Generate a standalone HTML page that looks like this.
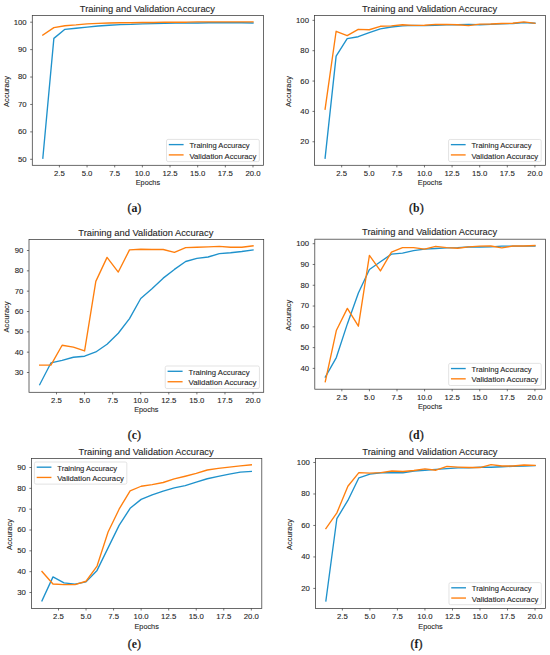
<!DOCTYPE html>
<html><head><meta charset="utf-8"><style>
html,body{margin:0;padding:0;background:#fff;width:550px;height:655px;overflow:hidden}
svg{display:block;font-family:"Liberation Sans",sans-serif;fill:#262626}
text{stroke:#262626;stroke-width:0.1px}
</style></head><body>
<svg width="550" height="655" viewBox="0 0 550 655">
<rect width="550" height="655" fill="#fff"/>
<g><polyline points="42.81,158.2 53.87,38.38 64.93,29.33 76,28.23 87.06,27.14 98.12,26.04 109.18,25.22 120.24,24.67 131.31,24.39 142.37,23.85 153.43,23.57 164.49,23.3 175.56,23.02 186.62,23.02 197.68,23.02 208.74,22.75 219.8,22.75 230.87,22.75 241.93,22.75 252.99,23.02" fill="none" stroke="#1f92cc" stroke-width="1.35" stroke-linejoin="round" stroke-linecap="square"/><polyline points="42.81,35.09 53.87,27.68 64.93,25.76 76,24.94 87.06,23.85 98.12,23.3 109.18,23.02 120.24,22.75 131.31,22.75 142.37,22.47 153.43,22.47 164.49,22.2 175.56,22.2 186.62,22.2 197.68,21.93 208.74,21.93 219.8,21.93 230.87,21.93 241.93,21.93 252.99,21.93" fill="none" stroke="#ff7f0e" stroke-width="1.35" stroke-linejoin="round" stroke-linecap="square"/><rect x="32.3" y="15.5" width="231.2" height="149.8" fill="none" stroke="#3a3a3a" stroke-width="0.75"/><line x1="59.4" y1="165.3" x2="59.4" y2="167.4" stroke="#3a3a3a" stroke-width="0.7"/><text x="59.4" y="175.8" font-size="7.48" text-anchor="middle" textLength="10.81" lengthAdjust="spacingAndGlyphs">2.5</text><line x1="87.06" y1="165.3" x2="87.06" y2="167.4" stroke="#3a3a3a" stroke-width="0.7"/><text x="87.06" y="175.8" font-size="7.48" text-anchor="middle" textLength="10.81" lengthAdjust="spacingAndGlyphs">5.0</text><line x1="114.71" y1="165.3" x2="114.71" y2="167.4" stroke="#3a3a3a" stroke-width="0.7"/><text x="114.71" y="175.8" font-size="7.48" text-anchor="middle" textLength="10.81" lengthAdjust="spacingAndGlyphs">7.5</text><line x1="142.37" y1="165.3" x2="142.37" y2="167.4" stroke="#3a3a3a" stroke-width="0.7"/><text x="142.37" y="175.8" font-size="7.48" text-anchor="middle" textLength="15.14" lengthAdjust="spacingAndGlyphs">10.0</text><line x1="170.02" y1="165.3" x2="170.02" y2="167.4" stroke="#3a3a3a" stroke-width="0.7"/><text x="170.02" y="175.8" font-size="7.48" text-anchor="middle" textLength="15.14" lengthAdjust="spacingAndGlyphs">12.5</text><line x1="197.68" y1="165.3" x2="197.68" y2="167.4" stroke="#3a3a3a" stroke-width="0.7"/><text x="197.68" y="175.8" font-size="7.48" text-anchor="middle" textLength="15.14" lengthAdjust="spacingAndGlyphs">15.0</text><line x1="225.34" y1="165.3" x2="225.34" y2="167.4" stroke="#3a3a3a" stroke-width="0.7"/><text x="225.34" y="175.8" font-size="7.48" text-anchor="middle" textLength="15.14" lengthAdjust="spacingAndGlyphs">17.5</text><line x1="252.99" y1="165.3" x2="252.99" y2="167.4" stroke="#3a3a3a" stroke-width="0.7"/><text x="252.99" y="175.8" font-size="7.48" text-anchor="middle" textLength="15.14" lengthAdjust="spacingAndGlyphs">20.0</text><line x1="30.2" y1="159.3" x2="32.3" y2="159.3" stroke="#3a3a3a" stroke-width="0.7"/><text x="26.7" y="161.75" font-size="7.48" text-anchor="end" textLength="8.65" lengthAdjust="spacingAndGlyphs">50</text><line x1="30.2" y1="131.88" x2="32.3" y2="131.88" stroke="#3a3a3a" stroke-width="0.7"/><text x="26.7" y="134.33" font-size="7.48" text-anchor="end" textLength="8.65" lengthAdjust="spacingAndGlyphs">60</text><line x1="30.2" y1="104.46" x2="32.3" y2="104.46" stroke="#3a3a3a" stroke-width="0.7"/><text x="26.7" y="106.91" font-size="7.48" text-anchor="end" textLength="8.65" lengthAdjust="spacingAndGlyphs">70</text><line x1="30.2" y1="77.04" x2="32.3" y2="77.04" stroke="#3a3a3a" stroke-width="0.7"/><text x="26.7" y="79.49" font-size="7.48" text-anchor="end" textLength="8.65" lengthAdjust="spacingAndGlyphs">80</text><line x1="30.2" y1="49.62" x2="32.3" y2="49.62" stroke="#3a3a3a" stroke-width="0.7"/><text x="26.7" y="52.07" font-size="7.48" text-anchor="end" textLength="8.65" lengthAdjust="spacingAndGlyphs">90</text><line x1="30.2" y1="22.2" x2="32.3" y2="22.2" stroke="#3a3a3a" stroke-width="0.7"/><text x="26.7" y="24.65" font-size="7.48" text-anchor="end" textLength="12.98" lengthAdjust="spacingAndGlyphs">100</text><text x="147.9" y="185.4" font-size="7.48" text-anchor="middle" textLength="24.36" lengthAdjust="spacingAndGlyphs">Epochs</text><text x="9.5" y="91.4" font-size="6.66" text-anchor="middle" textLength="31.05" lengthAdjust="spacingAndGlyphs" transform="rotate(-90 9.5 91.4)">Accuracy</text><text x="147.4" y="11.6" font-size="9.13" text-anchor="middle" textLength="135.16" lengthAdjust="spacingAndGlyphs">Training and Validation Accuracy</text><rect x="166.5" y="139.4" width="92.8" height="22.2" rx="1.6" fill="#fff" fill-opacity="0.8" stroke="#d9d9d9" stroke-width="0.75"/><line x1="168.8" y1="144.6" x2="183.6" y2="144.6" stroke="#1f92cc" stroke-width="1.35"/><text x="189.5" y="148.2" font-size="7.48" text-anchor="start" textLength="60.04" lengthAdjust="spacingAndGlyphs">Training Accuracy</text><line x1="168.8" y1="154.9" x2="183.6" y2="154.9" stroke="#ff7f0e" stroke-width="1.35"/><text x="189.5" y="158.5" font-size="7.48" text-anchor="start" textLength="66.79" lengthAdjust="spacingAndGlyphs">Validation Accuracy</text><text x="134.4" y="211.9" font-size="12.0" text-anchor="middle" font-family="Liberation Serif" fill="#1a1a1a" style="stroke:#1a1a1a;stroke-width:0.3px">(<tspan font-weight="bold" font-size="11.8" style="stroke:none">a</tspan>)</text></g>
<g><polyline points="325.09,158.14 336.13,56.16 347.18,38.56 358.22,36.74 369.26,32.64 380.31,28.85 391.35,27.03 402.39,25.81 413.44,25.36 424.48,25.66 435.52,25.36 446.56,24.9 457.61,24.75 468.65,24.45 479.69,24.75 490.74,24.3 501.78,23.84 512.82,23.54 523.87,22.63 534.91,23.23" fill="none" stroke="#1f92cc" stroke-width="1.35" stroke-linejoin="round" stroke-linecap="square"/><polyline points="325.09,109.12 336.13,31.28 347.18,35.68 358.22,29.3 369.26,29.76 380.31,26.27 391.35,25.81 402.39,24.75 413.44,25.36 424.48,25.21 435.52,24.45 446.56,24.45 457.61,24.75 468.65,25.66 479.69,24.14 490.74,23.99 501.78,23.54 512.82,23.23 523.87,21.87 534.91,23.23" fill="none" stroke="#ff7f0e" stroke-width="1.35" stroke-linejoin="round" stroke-linecap="square"/><rect x="314.6" y="15.5" width="230.8" height="149.8" fill="none" stroke="#3a3a3a" stroke-width="0.75"/><line x1="341.66" y1="165.3" x2="341.66" y2="167.4" stroke="#3a3a3a" stroke-width="0.7"/><text x="341.66" y="175.8" font-size="7.48" text-anchor="middle" textLength="10.81" lengthAdjust="spacingAndGlyphs">2.5</text><line x1="369.26" y1="165.3" x2="369.26" y2="167.4" stroke="#3a3a3a" stroke-width="0.7"/><text x="369.26" y="175.8" font-size="7.48" text-anchor="middle" textLength="10.81" lengthAdjust="spacingAndGlyphs">5.0</text><line x1="396.87" y1="165.3" x2="396.87" y2="167.4" stroke="#3a3a3a" stroke-width="0.7"/><text x="396.87" y="175.8" font-size="7.48" text-anchor="middle" textLength="10.81" lengthAdjust="spacingAndGlyphs">7.5</text><line x1="424.48" y1="165.3" x2="424.48" y2="167.4" stroke="#3a3a3a" stroke-width="0.7"/><text x="424.48" y="175.8" font-size="7.48" text-anchor="middle" textLength="15.14" lengthAdjust="spacingAndGlyphs">10.0</text><line x1="452.09" y1="165.3" x2="452.09" y2="167.4" stroke="#3a3a3a" stroke-width="0.7"/><text x="452.09" y="175.8" font-size="7.48" text-anchor="middle" textLength="15.14" lengthAdjust="spacingAndGlyphs">12.5</text><line x1="479.69" y1="165.3" x2="479.69" y2="167.4" stroke="#3a3a3a" stroke-width="0.7"/><text x="479.69" y="175.8" font-size="7.48" text-anchor="middle" textLength="15.14" lengthAdjust="spacingAndGlyphs">15.0</text><line x1="507.3" y1="165.3" x2="507.3" y2="167.4" stroke="#3a3a3a" stroke-width="0.7"/><text x="507.3" y="175.8" font-size="7.48" text-anchor="middle" textLength="15.14" lengthAdjust="spacingAndGlyphs">17.5</text><line x1="534.91" y1="165.3" x2="534.91" y2="167.4" stroke="#3a3a3a" stroke-width="0.7"/><text x="534.91" y="175.8" font-size="7.48" text-anchor="middle" textLength="15.14" lengthAdjust="spacingAndGlyphs">20.0</text><line x1="312.5" y1="141.75" x2="314.6" y2="141.75" stroke="#3a3a3a" stroke-width="0.7"/><text x="309" y="144.2" font-size="7.48" text-anchor="end" textLength="8.65" lengthAdjust="spacingAndGlyphs">20</text><line x1="312.5" y1="111.4" x2="314.6" y2="111.4" stroke="#3a3a3a" stroke-width="0.7"/><text x="309" y="113.85" font-size="7.48" text-anchor="end" textLength="8.65" lengthAdjust="spacingAndGlyphs">40</text><line x1="312.5" y1="81.05" x2="314.6" y2="81.05" stroke="#3a3a3a" stroke-width="0.7"/><text x="309" y="83.5" font-size="7.48" text-anchor="end" textLength="8.65" lengthAdjust="spacingAndGlyphs">60</text><line x1="312.5" y1="50.7" x2="314.6" y2="50.7" stroke="#3a3a3a" stroke-width="0.7"/><text x="309" y="53.15" font-size="7.48" text-anchor="end" textLength="8.65" lengthAdjust="spacingAndGlyphs">80</text><line x1="312.5" y1="20.35" x2="314.6" y2="20.35" stroke="#3a3a3a" stroke-width="0.7"/><text x="309" y="22.8" font-size="7.48" text-anchor="end" textLength="12.98" lengthAdjust="spacingAndGlyphs">100</text><text x="430" y="185.4" font-size="7.48" text-anchor="middle" textLength="24.36" lengthAdjust="spacingAndGlyphs">Epochs</text><text x="291.2" y="91.4" font-size="6.66" text-anchor="middle" textLength="31.05" lengthAdjust="spacingAndGlyphs" transform="rotate(-90 291.2 91.4)">Accuracy</text><text x="429.5" y="11.6" font-size="9.13" text-anchor="middle" textLength="135.16" lengthAdjust="spacingAndGlyphs">Training and Validation Accuracy</text><rect x="448.57" y="139.44" width="92.64" height="22.16" rx="1.6" fill="#fff" fill-opacity="0.8" stroke="#d9d9d9" stroke-width="0.75"/><line x1="450.86" y1="144.64" x2="465.64" y2="144.64" stroke="#1f92cc" stroke-width="1.35"/><text x="471.53" y="148.23" font-size="7.47" text-anchor="start" textLength="59.93" lengthAdjust="spacingAndGlyphs">Training Accuracy</text><line x1="450.86" y1="154.92" x2="465.64" y2="154.92" stroke="#ff7f0e" stroke-width="1.35"/><text x="471.53" y="158.51" font-size="7.47" text-anchor="start" textLength="66.67" lengthAdjust="spacingAndGlyphs">Validation Accuracy</text><text x="416.4" y="211.9" font-size="12.0" text-anchor="middle" font-family="Liberation Serif" fill="#1a1a1a" style="stroke:#1a1a1a;stroke-width:0.3px">(<tspan font-weight="bold" font-size="11.8" style="stroke:none">b</tspan>)</text></g>
<g><polyline points="39.67,384.7 50.9,362.94 62.13,360.3 73.36,357.25 84.59,356.23 95.82,351.96 107.05,344.24 118.28,333.26 129.51,318.62 140.74,298.49 151.96,288.73 163.19,278.15 174.42,269.41 185.65,261.48 196.88,258.43 208.11,257.01 219.34,253.55 230.57,252.74 241.8,251.52 253.03,249.89" fill="none" stroke="#1f92cc" stroke-width="1.35" stroke-linejoin="round" stroke-linecap="square"/><polyline points="39.67,365.18 50.9,365.18 62.13,345.25 73.36,347.08 84.59,350.95 95.82,281.41 107.05,257.41 118.28,272.05 129.51,249.89 140.74,249.28 151.96,249.48 163.19,249.48 174.42,252.33 185.65,247.65 196.88,247.25 208.11,246.84 219.34,246.43 230.57,247.25 241.8,247.25 253.03,245.82" fill="none" stroke="#ff7f0e" stroke-width="1.35" stroke-linejoin="round" stroke-linecap="square"/><rect x="29" y="239.5" width="234.7" height="152.8" fill="none" stroke="#3a3a3a" stroke-width="0.75"/><line x1="56.51" y1="392.3" x2="56.51" y2="394.4" stroke="#3a3a3a" stroke-width="0.7"/><text x="56.51" y="402.8" font-size="7.48" text-anchor="middle" textLength="10.81" lengthAdjust="spacingAndGlyphs">2.5</text><line x1="84.59" y1="392.3" x2="84.59" y2="394.4" stroke="#3a3a3a" stroke-width="0.7"/><text x="84.59" y="402.8" font-size="7.48" text-anchor="middle" textLength="10.81" lengthAdjust="spacingAndGlyphs">5.0</text><line x1="112.66" y1="392.3" x2="112.66" y2="394.4" stroke="#3a3a3a" stroke-width="0.7"/><text x="112.66" y="402.8" font-size="7.48" text-anchor="middle" textLength="10.81" lengthAdjust="spacingAndGlyphs">7.5</text><line x1="140.74" y1="392.3" x2="140.74" y2="394.4" stroke="#3a3a3a" stroke-width="0.7"/><text x="140.74" y="402.8" font-size="7.48" text-anchor="middle" textLength="15.14" lengthAdjust="spacingAndGlyphs">10.0</text><line x1="168.81" y1="392.3" x2="168.81" y2="394.4" stroke="#3a3a3a" stroke-width="0.7"/><text x="168.81" y="402.8" font-size="7.48" text-anchor="middle" textLength="15.14" lengthAdjust="spacingAndGlyphs">12.5</text><line x1="196.88" y1="392.3" x2="196.88" y2="394.4" stroke="#3a3a3a" stroke-width="0.7"/><text x="196.88" y="402.8" font-size="7.48" text-anchor="middle" textLength="15.14" lengthAdjust="spacingAndGlyphs">15.0</text><line x1="224.96" y1="392.3" x2="224.96" y2="394.4" stroke="#3a3a3a" stroke-width="0.7"/><text x="224.96" y="402.8" font-size="7.48" text-anchor="middle" textLength="15.14" lengthAdjust="spacingAndGlyphs">17.5</text><line x1="253.03" y1="392.3" x2="253.03" y2="394.4" stroke="#3a3a3a" stroke-width="0.7"/><text x="253.03" y="402.8" font-size="7.48" text-anchor="middle" textLength="15.14" lengthAdjust="spacingAndGlyphs">20.0</text><line x1="26.9" y1="372.5" x2="29" y2="372.5" stroke="#3a3a3a" stroke-width="0.7"/><text x="23.4" y="374.95" font-size="7.48" text-anchor="end" textLength="8.65" lengthAdjust="spacingAndGlyphs">30</text><line x1="26.9" y1="352.17" x2="29" y2="352.17" stroke="#3a3a3a" stroke-width="0.7"/><text x="23.4" y="354.62" font-size="7.48" text-anchor="end" textLength="8.65" lengthAdjust="spacingAndGlyphs">40</text><line x1="26.9" y1="331.83" x2="29" y2="331.83" stroke="#3a3a3a" stroke-width="0.7"/><text x="23.4" y="334.28" font-size="7.48" text-anchor="end" textLength="8.65" lengthAdjust="spacingAndGlyphs">50</text><line x1="26.9" y1="311.5" x2="29" y2="311.5" stroke="#3a3a3a" stroke-width="0.7"/><text x="23.4" y="313.95" font-size="7.48" text-anchor="end" textLength="8.65" lengthAdjust="spacingAndGlyphs">60</text><line x1="26.9" y1="291.17" x2="29" y2="291.17" stroke="#3a3a3a" stroke-width="0.7"/><text x="23.4" y="293.62" font-size="7.48" text-anchor="end" textLength="8.65" lengthAdjust="spacingAndGlyphs">70</text><line x1="26.9" y1="270.83" x2="29" y2="270.83" stroke="#3a3a3a" stroke-width="0.7"/><text x="23.4" y="273.28" font-size="7.48" text-anchor="end" textLength="8.65" lengthAdjust="spacingAndGlyphs">80</text><line x1="26.9" y1="250.5" x2="29" y2="250.5" stroke="#3a3a3a" stroke-width="0.7"/><text x="23.4" y="252.95" font-size="7.48" text-anchor="end" textLength="8.65" lengthAdjust="spacingAndGlyphs">90</text><text x="146.35" y="412.4" font-size="7.48" text-anchor="middle" textLength="24.36" lengthAdjust="spacingAndGlyphs">Epochs</text><text x="9.2" y="316.9" font-size="6.66" text-anchor="middle" textLength="31.05" lengthAdjust="spacingAndGlyphs" transform="rotate(-90 9.2 316.9)">Accuracy</text><text x="145.85" y="235.6" font-size="9.13" text-anchor="middle" textLength="135.16" lengthAdjust="spacingAndGlyphs">Training and Validation Accuracy</text><rect x="165.23" y="366.01" width="94.2" height="22.54" rx="1.6" fill="#fff" fill-opacity="0.8" stroke="#d9d9d9" stroke-width="0.75"/><line x1="167.57" y1="371.29" x2="182.59" y2="371.29" stroke="#1f92cc" stroke-width="1.35"/><text x="188.58" y="374.94" font-size="7.59" text-anchor="start" textLength="60.95" lengthAdjust="spacingAndGlyphs">Training Accuracy</text><line x1="167.57" y1="381.74" x2="182.59" y2="381.74" stroke="#ff7f0e" stroke-width="1.35"/><text x="188.58" y="385.4" font-size="7.59" text-anchor="start" textLength="67.8" lengthAdjust="spacingAndGlyphs">Validation Accuracy</text><text x="134.3" y="439.1" font-size="12.0" text-anchor="middle" font-family="Liberation Serif" fill="#1a1a1a" style="stroke:#1a1a1a;stroke-width:0.3px">(<tspan font-weight="bold" font-size="11.8" style="stroke:none">c</tspan>)</text></g>
<g><polyline points="325.28,377.11 336.32,357.57 347.35,323.91 358.38,292.95 369.42,269.47 380.45,261.78 391.48,254.09 402.52,253.05 413.55,250.56 424.58,249.1 435.62,248.48 446.65,247.86 457.68,247.65 468.72,247.02 479.75,247.02 490.78,246.82 501.82,246.19 512.85,246.19 523.88,246.19 534.92,245.99" fill="none" stroke="#1f92cc" stroke-width="1.35" stroke-linejoin="round" stroke-linecap="square"/><polyline points="325.28,381.68 336.32,330.56 347.35,308.33 358.38,326.2 369.42,255.34 380.45,270.92 391.48,252.01 402.52,247.65 413.55,247.65 424.58,249.1 435.62,246.4 446.65,247.65 457.68,248.27 468.72,246.82 479.75,246.19 490.78,245.99 501.82,247.86 512.85,245.99 523.88,245.99 534.92,245.57" fill="none" stroke="#ff7f0e" stroke-width="1.35" stroke-linejoin="round" stroke-linecap="square"/><rect x="314.8" y="239.2" width="230.6" height="150" fill="none" stroke="#3a3a3a" stroke-width="0.75"/><line x1="341.83" y1="389.2" x2="341.83" y2="391.3" stroke="#3a3a3a" stroke-width="0.7"/><text x="341.83" y="399.7" font-size="7.48" text-anchor="middle" textLength="10.81" lengthAdjust="spacingAndGlyphs">2.5</text><line x1="369.42" y1="389.2" x2="369.42" y2="391.3" stroke="#3a3a3a" stroke-width="0.7"/><text x="369.42" y="399.7" font-size="7.48" text-anchor="middle" textLength="10.81" lengthAdjust="spacingAndGlyphs">5.0</text><line x1="397" y1="389.2" x2="397" y2="391.3" stroke="#3a3a3a" stroke-width="0.7"/><text x="397" y="399.7" font-size="7.48" text-anchor="middle" textLength="10.81" lengthAdjust="spacingAndGlyphs">7.5</text><line x1="424.58" y1="389.2" x2="424.58" y2="391.3" stroke="#3a3a3a" stroke-width="0.7"/><text x="424.58" y="399.7" font-size="7.48" text-anchor="middle" textLength="15.14" lengthAdjust="spacingAndGlyphs">10.0</text><line x1="452.17" y1="389.2" x2="452.17" y2="391.3" stroke="#3a3a3a" stroke-width="0.7"/><text x="452.17" y="399.7" font-size="7.48" text-anchor="middle" textLength="15.14" lengthAdjust="spacingAndGlyphs">12.5</text><line x1="479.75" y1="389.2" x2="479.75" y2="391.3" stroke="#3a3a3a" stroke-width="0.7"/><text x="479.75" y="399.7" font-size="7.48" text-anchor="middle" textLength="15.14" lengthAdjust="spacingAndGlyphs">15.0</text><line x1="507.33" y1="389.2" x2="507.33" y2="391.3" stroke="#3a3a3a" stroke-width="0.7"/><text x="507.33" y="399.7" font-size="7.48" text-anchor="middle" textLength="15.14" lengthAdjust="spacingAndGlyphs">17.5</text><line x1="534.92" y1="389.2" x2="534.92" y2="391.3" stroke="#3a3a3a" stroke-width="0.7"/><text x="534.92" y="399.7" font-size="7.48" text-anchor="middle" textLength="15.14" lengthAdjust="spacingAndGlyphs">20.0</text><line x1="312.7" y1="368.38" x2="314.8" y2="368.38" stroke="#3a3a3a" stroke-width="0.7"/><text x="309.2" y="370.83" font-size="7.48" text-anchor="end" textLength="8.65" lengthAdjust="spacingAndGlyphs">40</text><line x1="312.7" y1="347.6" x2="314.8" y2="347.6" stroke="#3a3a3a" stroke-width="0.7"/><text x="309.2" y="350.05" font-size="7.48" text-anchor="end" textLength="8.65" lengthAdjust="spacingAndGlyphs">50</text><line x1="312.7" y1="326.82" x2="314.8" y2="326.82" stroke="#3a3a3a" stroke-width="0.7"/><text x="309.2" y="329.27" font-size="7.48" text-anchor="end" textLength="8.65" lengthAdjust="spacingAndGlyphs">60</text><line x1="312.7" y1="306.04" x2="314.8" y2="306.04" stroke="#3a3a3a" stroke-width="0.7"/><text x="309.2" y="308.49" font-size="7.48" text-anchor="end" textLength="8.65" lengthAdjust="spacingAndGlyphs">70</text><line x1="312.7" y1="285.26" x2="314.8" y2="285.26" stroke="#3a3a3a" stroke-width="0.7"/><text x="309.2" y="287.71" font-size="7.48" text-anchor="end" textLength="8.65" lengthAdjust="spacingAndGlyphs">80</text><line x1="312.7" y1="264.48" x2="314.8" y2="264.48" stroke="#3a3a3a" stroke-width="0.7"/><text x="309.2" y="266.93" font-size="7.48" text-anchor="end" textLength="8.65" lengthAdjust="spacingAndGlyphs">90</text><line x1="312.7" y1="243.7" x2="314.8" y2="243.7" stroke="#3a3a3a" stroke-width="0.7"/><text x="309.2" y="246.15" font-size="7.48" text-anchor="end" textLength="12.98" lengthAdjust="spacingAndGlyphs">100</text><text x="430.1" y="409.3" font-size="7.48" text-anchor="middle" textLength="24.36" lengthAdjust="spacingAndGlyphs">Epochs</text><text x="291.2" y="315.2" font-size="6.66" text-anchor="middle" textLength="31.05" lengthAdjust="spacingAndGlyphs" transform="rotate(-90 291.2 315.2)">Accuracy</text><text x="429.6" y="235.3" font-size="9.13" text-anchor="middle" textLength="135.16" lengthAdjust="spacingAndGlyphs">Training and Validation Accuracy</text><rect x="448.65" y="363.37" width="92.56" height="22.14" rx="1.6" fill="#fff" fill-opacity="0.8" stroke="#d9d9d9" stroke-width="0.75"/><line x1="450.95" y1="368.55" x2="465.71" y2="368.55" stroke="#1f92cc" stroke-width="1.35"/><text x="471.59" y="372.14" font-size="7.46" text-anchor="start" textLength="59.88" lengthAdjust="spacingAndGlyphs">Training Accuracy</text><line x1="450.95" y1="378.83" x2="465.71" y2="378.83" stroke="#ff7f0e" stroke-width="1.35"/><text x="471.59" y="382.42" font-size="7.46" text-anchor="start" textLength="66.61" lengthAdjust="spacingAndGlyphs">Validation Accuracy</text><text x="416.4" y="439.1" font-size="12.0" text-anchor="middle" font-family="Liberation Serif" fill="#1a1a1a" style="stroke:#1a1a1a;stroke-width:0.3px">(<tspan font-weight="bold" font-size="11.8" style="stroke:none">d</tspan>)</text></g>
<g><polyline points="41.97,600.83 52.99,576.87 64.01,582.91 75.03,584.16 86.04,581.87 97.06,570.42 108.08,547.92 119.1,525.42 130.12,508.33 141.14,499.37 152.16,494.79 163.18,491.04 174.2,487.92 185.22,485.62 196.24,482.08 207.26,478.75 218.27,476.46 229.29,474.17 240.31,472.08 251.33,471.46" fill="none" stroke="#1f92cc" stroke-width="1.35" stroke-linejoin="round" stroke-linecap="square"/><polyline points="41.97,571.46 52.99,583.96 64.01,584.58 75.03,584.58 86.04,581.25 97.06,566.04 108.08,532.08 119.1,509.17 130.12,490.83 141.14,486.25 152.16,484.58 163.18,482.5 174.2,478.96 185.22,476.25 196.24,473.33 207.26,470 218.27,468.33 229.29,467.08 240.31,465.83 251.33,464.79" fill="none" stroke="#ff7f0e" stroke-width="1.35" stroke-linejoin="round" stroke-linecap="square"/><rect x="31.5" y="458.6" width="230.3" height="149.8" fill="none" stroke="#3a3a3a" stroke-width="0.75"/><line x1="58.5" y1="608.4" x2="58.5" y2="610.5" stroke="#3a3a3a" stroke-width="0.7"/><text x="58.5" y="618.9" font-size="7.48" text-anchor="middle" textLength="10.81" lengthAdjust="spacingAndGlyphs">2.5</text><line x1="86.04" y1="608.4" x2="86.04" y2="610.5" stroke="#3a3a3a" stroke-width="0.7"/><text x="86.04" y="618.9" font-size="7.48" text-anchor="middle" textLength="10.81" lengthAdjust="spacingAndGlyphs">5.0</text><line x1="113.59" y1="608.4" x2="113.59" y2="610.5" stroke="#3a3a3a" stroke-width="0.7"/><text x="113.59" y="618.9" font-size="7.48" text-anchor="middle" textLength="10.81" lengthAdjust="spacingAndGlyphs">7.5</text><line x1="141.14" y1="608.4" x2="141.14" y2="610.5" stroke="#3a3a3a" stroke-width="0.7"/><text x="141.14" y="618.9" font-size="7.48" text-anchor="middle" textLength="15.14" lengthAdjust="spacingAndGlyphs">10.0</text><line x1="168.69" y1="608.4" x2="168.69" y2="610.5" stroke="#3a3a3a" stroke-width="0.7"/><text x="168.69" y="618.9" font-size="7.48" text-anchor="middle" textLength="15.14" lengthAdjust="spacingAndGlyphs">12.5</text><line x1="196.24" y1="608.4" x2="196.24" y2="610.5" stroke="#3a3a3a" stroke-width="0.7"/><text x="196.24" y="618.9" font-size="7.48" text-anchor="middle" textLength="15.14" lengthAdjust="spacingAndGlyphs">15.0</text><line x1="223.78" y1="608.4" x2="223.78" y2="610.5" stroke="#3a3a3a" stroke-width="0.7"/><text x="223.78" y="618.9" font-size="7.48" text-anchor="middle" textLength="15.14" lengthAdjust="spacingAndGlyphs">17.5</text><line x1="251.33" y1="608.4" x2="251.33" y2="610.5" stroke="#3a3a3a" stroke-width="0.7"/><text x="251.33" y="618.9" font-size="7.48" text-anchor="middle" textLength="15.14" lengthAdjust="spacingAndGlyphs">20.0</text><line x1="29.4" y1="592.5" x2="31.5" y2="592.5" stroke="#3a3a3a" stroke-width="0.7"/><text x="25.9" y="594.95" font-size="7.48" text-anchor="end" textLength="8.65" lengthAdjust="spacingAndGlyphs">30</text><line x1="29.4" y1="571.66" x2="31.5" y2="571.66" stroke="#3a3a3a" stroke-width="0.7"/><text x="25.9" y="574.12" font-size="7.48" text-anchor="end" textLength="8.65" lengthAdjust="spacingAndGlyphs">40</text><line x1="29.4" y1="550.83" x2="31.5" y2="550.83" stroke="#3a3a3a" stroke-width="0.7"/><text x="25.9" y="553.28" font-size="7.48" text-anchor="end" textLength="8.65" lengthAdjust="spacingAndGlyphs">50</text><line x1="29.4" y1="530" x2="31.5" y2="530" stroke="#3a3a3a" stroke-width="0.7"/><text x="25.9" y="532.45" font-size="7.48" text-anchor="end" textLength="8.65" lengthAdjust="spacingAndGlyphs">60</text><line x1="29.4" y1="509.17" x2="31.5" y2="509.17" stroke="#3a3a3a" stroke-width="0.7"/><text x="25.9" y="511.62" font-size="7.48" text-anchor="end" textLength="8.65" lengthAdjust="spacingAndGlyphs">70</text><line x1="29.4" y1="488.33" x2="31.5" y2="488.33" stroke="#3a3a3a" stroke-width="0.7"/><text x="25.9" y="490.78" font-size="7.48" text-anchor="end" textLength="8.65" lengthAdjust="spacingAndGlyphs">80</text><line x1="29.4" y1="467.5" x2="31.5" y2="467.5" stroke="#3a3a3a" stroke-width="0.7"/><text x="25.9" y="469.95" font-size="7.48" text-anchor="end" textLength="8.65" lengthAdjust="spacingAndGlyphs">90</text><text x="146.65" y="628.5" font-size="7.48" text-anchor="middle" textLength="24.36" lengthAdjust="spacingAndGlyphs">Epochs</text><text x="12.3" y="534.5" font-size="6.66" text-anchor="middle" textLength="31.05" lengthAdjust="spacingAndGlyphs" transform="rotate(-90 12.3 534.5)">Accuracy</text><text x="146.15" y="454.7" font-size="9.13" text-anchor="middle" textLength="135.16" lengthAdjust="spacingAndGlyphs">Training and Validation Accuracy</text><rect x="34.4" y="462" width="92.44" height="22.11" rx="1.6" fill="#fff" fill-opacity="0.8" stroke="#d9d9d9" stroke-width="0.75"/><line x1="36.69" y1="467.18" x2="51.43" y2="467.18" stroke="#1f92cc" stroke-width="1.35"/><text x="57.31" y="470.77" font-size="7.45" text-anchor="start" textLength="59.8" lengthAdjust="spacingAndGlyphs">Training Accuracy</text><line x1="36.69" y1="477.44" x2="51.43" y2="477.44" stroke="#ff7f0e" stroke-width="1.35"/><text x="57.31" y="481.03" font-size="7.45" text-anchor="start" textLength="66.53" lengthAdjust="spacingAndGlyphs">Validation Accuracy</text><text x="134.4" y="647.8" font-size="12.0" text-anchor="middle" font-family="Liberation Serif" fill="#1a1a1a" style="stroke:#1a1a1a;stroke-width:0.3px">(<tspan font-weight="bold" font-size="11.8" style="stroke:none">e</tspan>)</text></g>
<g><polyline points="325.86,601.01 336.87,518.53 347.88,500.43 358.89,477.77 369.9,474.15 380.91,472.73 391.92,472.73 402.93,472.73 413.94,471 424.95,470.21 435.95,469.43 446.96,468.64 457.97,467.85 468.98,467.85 479.99,467.22 491,467.22 502.01,466.75 513.02,466.28 524.03,465.96 535.04,465.65" fill="none" stroke="#1f92cc" stroke-width="1.35" stroke-linejoin="round" stroke-linecap="square"/><polyline points="325.86,528.61 336.87,512.87 347.88,486.27 358.89,472.57 369.9,473.2 380.91,472.57 391.92,471 402.93,471.47 413.94,470.53 424.95,468.95 435.95,470.21 446.96,466.44 457.97,467.06 468.98,467.54 479.99,467.54 491,464.55 502.01,465.96 513.02,465.96 524.03,465.02 535.04,465.33" fill="none" stroke="#ff7f0e" stroke-width="1.35" stroke-linejoin="round" stroke-linecap="square"/><rect x="315.4" y="458.6" width="230.1" height="149.8" fill="none" stroke="#3a3a3a" stroke-width="0.75"/><line x1="342.37" y1="608.4" x2="342.37" y2="610.5" stroke="#3a3a3a" stroke-width="0.7"/><text x="342.37" y="618.9" font-size="7.48" text-anchor="middle" textLength="10.81" lengthAdjust="spacingAndGlyphs">2.5</text><line x1="369.9" y1="608.4" x2="369.9" y2="610.5" stroke="#3a3a3a" stroke-width="0.7"/><text x="369.9" y="618.9" font-size="7.48" text-anchor="middle" textLength="10.81" lengthAdjust="spacingAndGlyphs">5.0</text><line x1="397.42" y1="608.4" x2="397.42" y2="610.5" stroke="#3a3a3a" stroke-width="0.7"/><text x="397.42" y="618.9" font-size="7.48" text-anchor="middle" textLength="10.81" lengthAdjust="spacingAndGlyphs">7.5</text><line x1="424.95" y1="608.4" x2="424.95" y2="610.5" stroke="#3a3a3a" stroke-width="0.7"/><text x="424.95" y="618.9" font-size="7.48" text-anchor="middle" textLength="15.14" lengthAdjust="spacingAndGlyphs">10.0</text><line x1="452.47" y1="608.4" x2="452.47" y2="610.5" stroke="#3a3a3a" stroke-width="0.7"/><text x="452.47" y="618.9" font-size="7.48" text-anchor="middle" textLength="15.14" lengthAdjust="spacingAndGlyphs">12.5</text><line x1="479.99" y1="608.4" x2="479.99" y2="610.5" stroke="#3a3a3a" stroke-width="0.7"/><text x="479.99" y="618.9" font-size="7.48" text-anchor="middle" textLength="15.14" lengthAdjust="spacingAndGlyphs">15.0</text><line x1="507.52" y1="608.4" x2="507.52" y2="610.5" stroke="#3a3a3a" stroke-width="0.7"/><text x="507.52" y="618.9" font-size="7.48" text-anchor="middle" textLength="15.14" lengthAdjust="spacingAndGlyphs">17.5</text><line x1="535.04" y1="608.4" x2="535.04" y2="610.5" stroke="#3a3a3a" stroke-width="0.7"/><text x="535.04" y="618.9" font-size="7.48" text-anchor="middle" textLength="15.14" lengthAdjust="spacingAndGlyphs">20.0</text><line x1="313.3" y1="588.42" x2="315.4" y2="588.42" stroke="#3a3a3a" stroke-width="0.7"/><text x="309.8" y="590.87" font-size="7.48" text-anchor="end" textLength="8.65" lengthAdjust="spacingAndGlyphs">20</text><line x1="313.3" y1="556.94" x2="315.4" y2="556.94" stroke="#3a3a3a" stroke-width="0.7"/><text x="309.8" y="559.39" font-size="7.48" text-anchor="end" textLength="8.65" lengthAdjust="spacingAndGlyphs">40</text><line x1="313.3" y1="525.46" x2="315.4" y2="525.46" stroke="#3a3a3a" stroke-width="0.7"/><text x="309.8" y="527.91" font-size="7.48" text-anchor="end" textLength="8.65" lengthAdjust="spacingAndGlyphs">60</text><line x1="313.3" y1="493.98" x2="315.4" y2="493.98" stroke="#3a3a3a" stroke-width="0.7"/><text x="309.8" y="496.43" font-size="7.48" text-anchor="end" textLength="8.65" lengthAdjust="spacingAndGlyphs">80</text><line x1="313.3" y1="462.5" x2="315.4" y2="462.5" stroke="#3a3a3a" stroke-width="0.7"/><text x="309.8" y="464.95" font-size="7.48" text-anchor="end" textLength="12.98" lengthAdjust="spacingAndGlyphs">100</text><text x="430.45" y="628.5" font-size="7.48" text-anchor="middle" textLength="24.36" lengthAdjust="spacingAndGlyphs">Epochs</text><text x="292.2" y="534.5" font-size="6.66" text-anchor="middle" textLength="31.05" lengthAdjust="spacingAndGlyphs" transform="rotate(-90 292.2 534.5)">Accuracy</text><text x="429.95" y="454.7" font-size="9.13" text-anchor="middle" textLength="135.16" lengthAdjust="spacingAndGlyphs">Training and Validation Accuracy</text><rect x="448.96" y="582.62" width="92.36" height="22.09" rx="1.6" fill="#fff" fill-opacity="0.8" stroke="#d9d9d9" stroke-width="0.75"/><line x1="451.25" y1="587.8" x2="465.98" y2="587.8" stroke="#1f92cc" stroke-width="1.35"/><text x="471.85" y="591.38" font-size="7.44" text-anchor="start" textLength="59.75" lengthAdjust="spacingAndGlyphs">Training Accuracy</text><line x1="451.25" y1="598.05" x2="465.98" y2="598.05" stroke="#ff7f0e" stroke-width="1.35"/><text x="471.85" y="601.63" font-size="7.44" text-anchor="start" textLength="66.47" lengthAdjust="spacingAndGlyphs">Validation Accuracy</text><text x="416.5" y="647.8" font-size="12.0" text-anchor="middle" font-family="Liberation Serif" fill="#1a1a1a" style="stroke:#1a1a1a;stroke-width:0.3px">(<tspan font-weight="bold" font-size="11.8" style="stroke:none">f</tspan>)</text></g>
</svg></body></html>
